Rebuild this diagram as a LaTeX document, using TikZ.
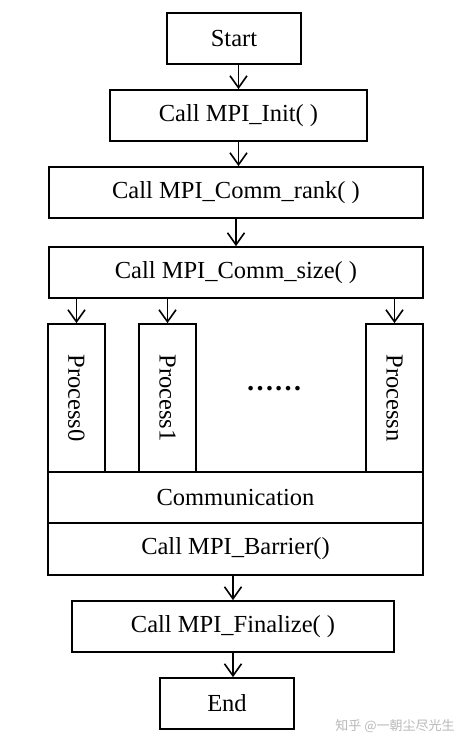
\documentclass[tikz,border=0pt]{standalone}
\usepackage{fontspec}
\setmainfont{Liberation Serif}
\newfontfamily\cjk{Noto Sans CJK SC}
\usetikzlibrary{arrows.meta}
\begin{document}
\begin{tikzpicture}[x=1pt,y=-1pt,
  box/.style={draw, line width=1.7pt, inner sep=0pt, minimum height=51pt,
    font=\fontsize{24.5}{29}\selectfont},
  txt/.style={inner sep=0pt, font=\fontsize{24.5}{29}\selectfont},
  arr/.style={line width=1.6pt, -{Straight Barb[length=12pt,width=17pt]}}]
\useasboundingbox (0,0) rectangle (473,748);
\node[box, minimum width=134pt] (start) at (234,38.5) {Start};
\node[box, minimum width=257pt] (init) at (238.5,115.5) {Call MPI\_Init( )};
\node[box, minimum width=374pt] (rank) at (236,192.5) {Call MPI\_Comm\_rank( )};
\node[box, minimum width=374pt] (size) at (236,272.5) {Call MPI\_Comm\_size( )};
\node[box, minimum width=57pt, minimum height=148pt] (p0) at (76.5,398) {};
\node[box, minimum width=57pt, minimum height=148pt] (p1) at (167.5,398) {};
\node[box, minimum width=57pt, minimum height=148pt] (pn) at (394.5,398) {};
\node[txt, rotate=-90] (p0t) at (p0.center) {Process0};
\node[txt, rotate=-90] (p1t) at (p1.center) {Process1};
\node[txt, rotate=-90] (pnt) at (pn.center) {Processn};
\node[inner sep=0pt, font=\bfseries\fontsize{28}{32}\selectfont] (dots) at (274,389) {……};
\node[box, minimum width=375pt] (comm) at (235.5,497.5) {Communication};
\node[box, minimum width=375pt, minimum height=52pt] (barrier) at (235.5,549) {Call MPI\_Barrier()};
\node[box, minimum width=322pt] (fin) at (233,626.5) {Call MPI\_Finalize( )};
\node[box, minimum width=134pt] (end) at (227,703.5) {End};
\node[inner sep=0pt, text=black!28, font=\cjk\fontsize{13}{15}\selectfont] (wm) at (395,726) {知乎 @一朝尘尽光生};
\draw[arr] (start.south -| init.north) -- (init.north);
\draw[arr] (init.south) -- (init.south |- rank.north);
\draw[arr] (rank.south) -- (size.north);
\draw[arr] (size.south -| p0.north) -- (p0.north);
\draw[arr] (size.south -| p1.north) -- (p1.north);
\draw[arr] (size.south -| pn.north) -- (pn.north);
\draw[arr] (fin.north |- barrier.south) -- (fin.north);
\draw[arr] (fin.south) -- (fin.south |- end.north);
\end{tikzpicture}
\end{document}
